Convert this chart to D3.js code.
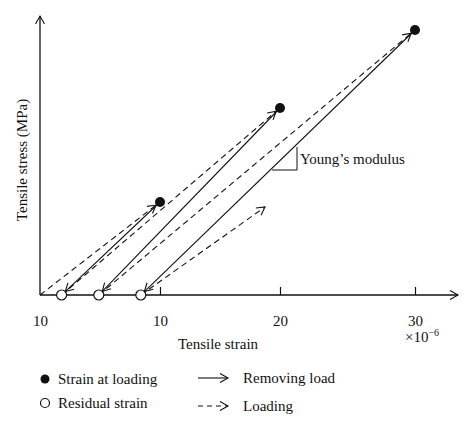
<!DOCTYPE html>
<html><head><meta charset="utf-8">
<script src="https://cdn.jsdelivr.net/npm/d3@7"></script>
<style>body{margin:0;background:#fff}text{font-family:"Liberation Serif","DejaVu Serif",serif;fill:#111}</style>
</head><body><svg id="c" width="474" height="432"></svg>
<script>
const tickValues=[0,10,20,30];
const tickLabels=["10","10","20","30"];
const loadingPts=[[10,93],[20,187],[30,265]];
const residualPts=[1.8,4.9,8.4];
const loadingLines=[[[0,0],[10,93]],[[1.8,0],[20,187]],[[4.9,0],[30,265]],[[8.4,0],[18.75,88]]];
const unloadLines=[[[10,93],[1.8,0]],[[20,187],[4.9,0]],[[30,265],[8.4,0]]];

const svg=d3.select("#c");
const x=d3.scaleLinear().domain([0,10,20,30]).range([40,160,280,415]);
const y=d3.scaleLinear().domain([0,280]).range([295,15]);
const defs=svg.append("defs");
defs.append("marker").attr("id","ah").attr("viewBox","-10 -6 12 12").attr("markerWidth",12).attr("markerHeight",12)
 .attr("markerUnits","userSpaceOnUse").attr("orient","auto").attr("refX",0).attr("refY",0)
 .append("path").attr("d","M-8,-4.5L0,0L-8,4.5").attr("fill","none").attr("stroke","#111").attr("stroke-width",1.1);
svg.append("line").attr("x1",40).attr("y1",295).attr("x2",458).attr("y2",295).attr("stroke","#111").attr("stroke-width",1.3).attr("marker-end","url(#ah)");
svg.append("line").attr("x1",40).attr("y1",295).attr("x2",40).attr("y2",16).attr("stroke","#111").attr("stroke-width",1.3).attr("marker-end","url(#ah)");
const ax=d3.axisBottom(x).tickValues(tickValues).tickSize(-8).tickFormat((d,i)=>tickLabels[i]);
const g=svg.append("g").attr("transform","translate(0,295)").call(ax);
g.select(".domain").remove();
g.selectAll(".tick line").attr("stroke","#111").attr("stroke-width",1.2).filter(d=>d===0).remove();
g.selectAll(".tick text").attr("y",20).attr("font-size",15).attr("font-family","Liberation Serif,serif").attr("fill","#111");
svg.append("text").attr("x",405).attr("y",342).attr("font-size",15).text("×10").append("tspan").attr("dy",-6).attr("font-size",10).text("−6");
svg.append("text").attr("x",218).attr("y",349).attr("text-anchor","middle").attr("font-size",15).text("Tensile strain");
svg.append("text").attr("transform","translate(27,160) rotate(-90)").attr("text-anchor","middle").attr("font-size",15).text("Tensile stress (MPa)");
function seg(p,q,s){const x1=x(p[0]),y1=y(p[1]),x2=x(q[0]),y2=y(q[1]);const L=Math.hypot(x2-x1,y2-y1);const t=(L-s)/L;return [x1,y1,x1+(x2-x1)*t,y1+(y2-y1)*t];}
svg.selectAll(".ld").data(loadingLines).enter().append("line").each(function(d){const s=seg(d[0],d[1],d[1][0]===18.75?0:5);
 d3.select(this).attr("x1",s[0]).attr("y1",s[1]).attr("x2",s[2]).attr("y2",s[3]);})
 .attr("stroke","#111").attr("stroke-width",1.1).attr("stroke-dasharray","6,4").attr("marker-end","url(#ah)");
svg.selectAll(".ul").data(unloadLines).enter().append("line").each(function(d){const s=seg(d[0],d[1],5);
 d3.select(this).attr("x1",s[0]).attr("y1",s[1]).attr("x2",s[2]).attr("y2",s[3]);})
 .attr("stroke","#111").attr("stroke-width",1.1).attr("marker-end","url(#ah)");
svg.selectAll(".fp").data(loadingPts).enter().append("circle").attr("cx",d=>x(d[0])).attr("cy",d=>y(d[1])).attr("r",5).attr("fill","#111");
svg.selectAll(".op").data(residualPts).enter().append("circle").attr("cx",d=>x(d)).attr("cy",295).attr("r",5).attr("fill","#fff").attr("stroke","#111").attr("stroke-width",1.2);
svg.append("path").attr("d","M272,170L297,170L297,147").attr("fill","none").attr("stroke","#111").attr("stroke-width",1);
svg.append("text").attr("x",300).attr("y",164).attr("font-size",15).text("Young’s modulus");
svg.append("circle").attr("cx",45).attr("cy",379).attr("r",4.5).attr("fill","#111");
svg.append("circle").attr("cx",45).attr("cy",403).attr("r",4.5).attr("fill","#fff").attr("stroke","#111").attr("stroke-width",1.2);
svg.append("text").attr("x",58).attr("y",384).attr("font-size",15).text("Strain at loading");
svg.append("text").attr("x",58).attr("y",408).attr("font-size",15).text("Residual strain");
svg.append("line").attr("x1",198).attr("y1",378).attr("x2",228).attr("y2",378).attr("stroke","#111").attr("stroke-width",1.1).attr("marker-end","url(#ah)");
svg.append("line").attr("x1",198).attr("y1",406).attr("x2",228).attr("y2",406).attr("stroke","#111").attr("stroke-width",1.1).attr("stroke-dasharray","5,4").attr("marker-end","url(#ah)");
svg.append("text").attr("x",243).attr("y",383).attr("font-size",15).text("Removing load");
svg.append("text").attr("x",243).attr("y",411).attr("font-size",15).text("Loading");
</script></body></html>
